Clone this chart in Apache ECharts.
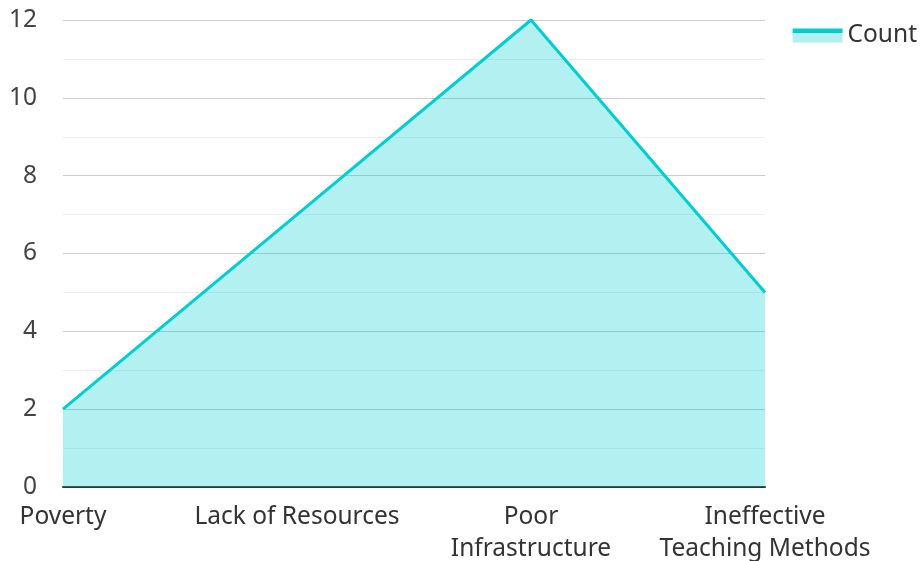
<!DOCTYPE html>
<html><head><meta charset="utf-8">
<script src="https://cdn.jsdelivr.net/npm/echarts@6/dist/echarts.min.js"></script>
<style>html,body{margin:0;padding:0;background:#fff}#c{width:922px;height:561px}</style>
</head><body><div id="c"></div>
<script>
const categories = ['Poverty', 'Lack of Resources', 'Poor Infrastructure', 'Ineffective Teaching Methods'];
const counts = [2, 7, 12, 5];
const seriesName = 'Count';
const yTicks = {min: 0, max: 12, interval: 2};
const wrapped = {'Poor Infrastructure': 'Poor\nInfrastructure', 'Ineffective Teaching Methods': 'Ineffective\nTeaching Methods'};

const chart = echarts.init(document.getElementById('c'));
chart.setOption({
  textStyle: {fontFamily: 'Noto Sans'},
  legend: {
    right: 0, top: 18, itemWidth: 50, itemHeight: 14, itemGap: 10,
    data: [{
      name: seriesName, icon: 'rect',
      itemStyle: {color: new echarts.graphic.LinearGradient(0, 0, 0, 1, [
        {offset: 0, color: '#00CED1'}, {offset: 0.29, color: '#00CED1'},
        {offset: 0.29, color: '#b2efee'}, {offset: 1, color: '#b2efee'}])}
    }],
    textStyle: {fontSize: 24.5, color: '#333', fontFamily: 'Noto Sans'}
  },
  grid: {left: 63, right: 157, top: 20, bottom: 74, outerBoundsMode: 'none', containLabel: false},
  xAxis: {
    type: 'category', data: categories, boundaryGap: false,
    axisLine: {lineStyle: {color: '#333', width: 2}},
    axisTick: {show: false},
    axisLabel: {fontSize: 24.5, color: '#333', margin: 14, lineHeight: 32, interval: 0, fontFamily: 'Noto Sans',
      formatter: v => wrapped[v] || v}
  },
  yAxis: {
    type: 'value', min: yTicks.min, max: yTicks.max, interval: yTicks.interval,
    axisLabel: {fontSize: 24.5, color: '#444', margin: 26, fontFamily: 'Noto Sans'},
    splitLine: {lineStyle: {color: '#ccc', width: 1}},
    minorTick: {show: false, splitNumber: 2},
    minorSplitLine: {show: true, lineStyle: {color: '#eee', width: 1}}
  },
  series: [{
    name: seriesName, type: 'line', data: counts,
    symbol: 'none', lineStyle: {color: '#00CED1', width: 3},
    itemStyle: {color: '#00CED1'},
    areaStyle: {color: '#00CED1', opacity: 0.3}
  }]
});
</script></body></html>
